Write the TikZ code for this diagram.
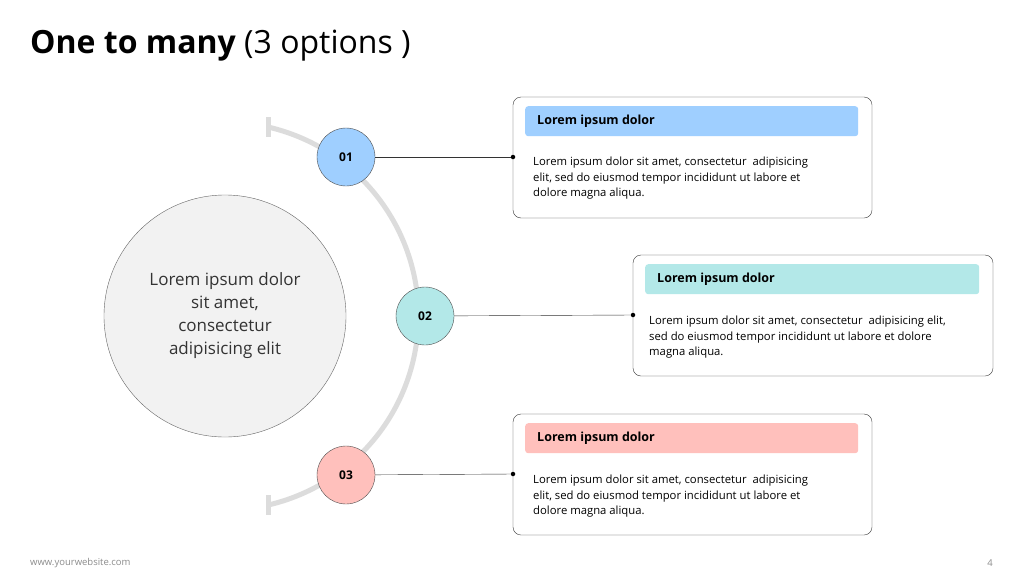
\documentclass[tikz,border=0pt]{standalone}
\usepackage{fontspec}
\setmainfont{Open Sans}
\usetikzlibrary{positioning}
\definecolor{arcgray}{HTML}{DCDCDC}
\definecolor{blueA}{HTML}{9FCFFF}
\definecolor{tealA}{HTML}{B3E8E8}
\definecolor{pinkA}{HTML}{FFC0BC}
\begin{document}
\begin{tikzpicture}[x=1pt,y=-1pt]
\tikzstyle{numnode}=[circle,draw=black!70,minimum size=58pt,inner sep=0pt,font=\fontsize{12}{14}\selectfont\bfseries]
\tikzstyle{cardbox}=[draw=black!80,rounded corners=8pt]
\tikzstyle{cardhead}=[rounded corners=3pt,anchor=north west,minimum height=30pt,inner sep=0pt]
\tikzstyle{cardtitle}=[anchor=west,inner sep=0pt,font=\fontsize{12.5}{14}\selectfont\bfseries]
\tikzstyle{cardtext}=[anchor=north west,align=left,inner sep=0pt,font=\fontsize{11.3}{15.5}\selectfont]
\tikzstyle{dot}=[circle,fill=black,inner sep=0pt,minimum size=4.5pt]

\useasboundingbox (0,0) rectangle (1024,576);
\fill[white] (0,0) rectangle (1024,576);

% title and footer
\node[anchor=west,inner sep=0pt] (title) at (30,46)
 {\fontsize{32}{36}\selectfont\textbf{One to many} (3 options )};
\node[anchor=west,inner sep=0pt,text=black!45,font=\fontsize{9.5}{10}\selectfont] (web) at (30,563) {www.yourwebsite.com};
\node[inner sep=0pt,text=black!45,font=\fontsize{9.5}{10}\selectfont] (page) at (990,563) {4};

% arc
\draw[arcgray,line width=5pt] (268,127) arc[start angle=-77,end angle=77,radius=194];
\draw[arcgray,line width=5pt] (268,117) -- (268,137);
\draw[arcgray,line width=5pt] (268,495) -- (268,515);

% hub
\node[circle,draw=black!60,fill=black!5,minimum size=242pt,align=center,
 font=\fontsize{17}{23}\selectfont,text=black!80] (hub) at (225,316)
 {Lorem ipsum dolor\\sit amet,\\consectetur\\adipisicing elit};

% numbers
\node[numnode,fill=blueA] (n1) at (346,157) {01};
\node[numnode,fill=tealA] (n2) at (425,316) {02};
\node[numnode,fill=pinkA] (n3) at (346,475) {03};

% cards
\foreach \i/\x/\y/\w/\col in {1/513/97/359/blueA,2/633/255/360/tealA,3/513/414/359/pinkA}{
 \draw[cardbox] (\x,\y) rectangle ++(\w,121);
 \node[cardhead,fill=\col,minimum width={\w-26}] (h\i) at (\x+12,\y+9) {};
 \node[cardtitle] (t\i) at (\x+24,\y+24) {Lorem ipsum dolor};
 \node[dot] (d\i) at (\x,\y+60) {};
 \draw[black!80] (n\i) -- (d\i);
}
\node[cardtext] (b1) at (533,157) {Lorem ipsum dolor sit amet, consectetur\ \ adipisicing\\elit, sed do eiusmod tempor incididunt ut labore et\\dolore magna aliqua.};
\node[cardtext] (b2) at (649,316) {Lorem ipsum dolor sit amet, consectetur\ \ adipisicing elit,\\sed do eiusmod tempor incididunt ut labore et dolore\\magna aliqua.};
\node[cardtext] (b3) at (533,475) {Lorem ipsum dolor sit amet, consectetur\ \ adipisicing\\elit, sed do eiusmod tempor incididunt ut labore et\\dolore magna aliqua.};
\end{tikzpicture}
\end{document}
